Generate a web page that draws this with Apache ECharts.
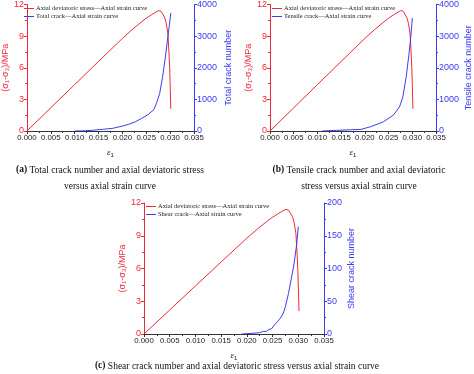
<!DOCTYPE html>
<html>
<head>
<meta charset="utf-8">
<script src="https://cdn.jsdelivr.net/npm/echarts@6/dist/echarts.min.js"></script>
<style>
html,body{margin:0;padding:0;background:#fff;}
#chart{width:474px;height:374px;}
</style>
</head>
<body>
<div id="chart"></div>
<script>
// ---- data ----
const stressStrain = [0, 0.005, 0.010, 0.015, 0.020, 0.022, 0.024, 0.025, 0.026, 0.027, 0.0276, 0.0281, 0.0285, 0.0289, 0.0292, 0.02954, 0.02975, 0.0299, 0.0300, 0.03014];
const stressValues = [0, 2.2, 4.4, 6.6, 8.78, 9.6, 10.35, 10.7, 11.0, 11.28, 11.42, 11.35, 11.05, 10.7, 10.2, 9.2, 7.5, 6.0, 4.5, 2.1];

const totalStrain = [0.010, 0.012, 0.014, 0.016, 0.018, 0.020, 0.0215, 0.0227, 0.024, 0.0254, 0.0266, 0.0271, 0.0278, 0.0284, 0.0290, 0.0295, 0.0298, 0.03014];
const totalCracks = [0, 5, 25, 55, 85, 156, 220, 291, 396, 521, 677, 865, 1177, 1697, 2322, 2947, 3300, 3728];

const tensileStrain = [0.011, 0.014, 0.017, 0.0192, 0.0212, 0.0239, 0.026, 0.0273, 0.028, 0.0287, 0.0293, 0.0297, 0.0300];
const tensileCracks = [0, 20, 40, 52, 135, 291, 500, 760, 1072, 1697, 2428, 3000, 3572];

const shearStrain = [0.019, 0.021, 0.0225, 0.0232, 0.0238, 0.0243, 0.0248, 0.0251, 0.0255, 0.0258, 0.0261, 0.0265, 0.0268, 0.0271, 0.0275, 0.0281, 0.0287, 0.0292, 0.0297, 0.0300];
const shearCracks = [0, 1, 2, 4, 4, 7, 8, 11, 15, 14, 20, 24, 27, 32, 42, 62, 87, 108, 138, 164];

const strainTicks = [0, 0.005, 0.010, 0.015, 0.020, 0.025, 0.030, 0.035];
const stressTicks = [0, 3, 6, 9, 12];
const crackMaxAB = 4000, crackStepAB = 1000;
const crackMaxC = 200, crackStepC = 50;

const stressName = 'Axial deviatoric stress\u2014Axial strain curve';
const crackNames = ['Total crack\u2014Axial strain curve', 'Tensile crack\u2014Axial strain curve', 'Shear crack\u2014Axial strain curve'];
const rightAxisNames = ['Total crack number', 'Tensile crack number', 'Shear crack number'];
const captions = [
  ['(a)', ' Total crack number and axial deviatoric stress', 'versus axial strain curve'],
  ['(b)', ' Tensile crack number and axial deviatoric', 'stress versus axial strain curve'],
  ['(c)', ' Shear crack number and axial deviatoric stress versus axial strain curve']
];

// ---- build ----
const RED = '#f0283c', BLUE = '#3c3cf0';
const zip = (xs, ys) => xs.map((x, i) => [x, ys[i]]);

const grids = [
  {left: 21, top: 3, width: 173, height: 128},
  {left: 270, top: 3, width: 173, height: 128},
  {left: 144, top: 203, width: 180, height: 131}
];
const rightMax = [crackMaxAB, crackMaxAB, crackMaxC];
const rightStep = [crackStepAB, crackStepAB, crackStepC];
const leftNameGap = [16, 17, 12];
const rightNameGap = [30, 28, 23];
const crackData = [zip(totalStrain, totalCracks), zip(tensileStrain, tensileCracks), zip(shearStrain, shearCracks)];
const legendPos = [{left: 24, top: 5}, {left: 272, top: 5}, {left: 146, top: 203}];

const xAxes = [], yAxes = [], series = [], legends = [];
grids.forEach((g, i) => {
  xAxes.push({
    type: 'value', gridIndex: i, min: 0, max: strainTicks[strainTicks.length - 1], interval: 0.005,
    name: '{e|ε}{s|1}', nameLocation: 'middle', nameGap: 16,
    nameTextStyle: {color: '#222', fontSize: 9, fontFamily: 'Liberation Serif',
      rich: {e: {fontSize: 9, fontFamily: 'Liberation Serif', fontStyle: 'italic', color: '#222'},
             s: {fontSize: 6, fontFamily: 'Liberation Sans', color: '#222', padding: [5, 0, 0, 0]}}},
    axisLine: {lineStyle: {color: '#333', width: 1}},
    axisTick: {show: true, length: 3, lineStyle: {color: '#333'}},
    minorTick: {show: true, splitNumber: 2, length: 2, lineStyle: {color: '#333'}},
    axisLabel: {color: '#222', fontSize: 7.8, fontFamily: 'Liberation Sans', margin: 3, formatter: v => v.toFixed(3)},
    splitLine: {show: false}
  });
  yAxes.push({
    type: 'value', gridIndex: i, min: 0, max: stressTicks[stressTicks.length - 1], interval: 3, position: 'left',
    name: '(σ\u2081-σ\u2083)/MPa', nameLocation: 'middle', nameGap: leftNameGap[i], nameRotate: 90,
    nameTextStyle: {color: RED, fontSize: 9, fontFamily: 'Liberation Sans'},
    axisLine: {show: true, lineStyle: {color: RED, width: 1}},
    axisTick: {show: true, length: 3, lineStyle: {color: RED}},
    minorTick: {show: true, splitNumber: 2, length: 2, lineStyle: {color: RED}},
    axisLabel: {color: RED, fontSize: 9, fontFamily: 'Liberation Sans', margin: 3},
    splitLine: {show: false}
  });
  yAxes.push({
    type: 'value', gridIndex: i, min: 0, max: rightMax[i], interval: rightStep[i], position: 'right',
    name: rightAxisNames[i], nameLocation: 'middle', nameGap: rightNameGap[i], nameRotate: 90,
    nameTextStyle: {color: BLUE, fontSize: 9, fontFamily: 'Liberation Sans'},
    axisLine: {show: true, lineStyle: {color: BLUE, width: 1}},
    axisTick: {show: true, length: 3, lineStyle: {color: BLUE}},
    minorTick: {show: true, splitNumber: 2, length: 2, lineStyle: {color: BLUE}},
    axisLabel: {color: BLUE, fontSize: 9, fontFamily: 'Liberation Sans', margin: 3, formatter: v => String(v)},
    splitLine: {show: false}
  });
  series.push({
    type: 'line', name: stressName, xAxisIndex: i, yAxisIndex: 2 * i,
    data: zip(stressStrain, stressValues), showSymbol: false, smooth: false,
    lineStyle: {color: RED, width: 1}, itemStyle: {color: RED}
  });
  series.push({
    type: 'line', name: crackNames[i], xAxisIndex: i, yAxisIndex: 2 * i + 1,
    data: crackData[i], showSymbol: false,
    lineStyle: {color: BLUE, width: 1}, itemStyle: {color: BLUE}
  });
  legends.push({
    data: [stressName, crackNames[i]], orient: 'vertical', left: legendPos[i].left, top: legendPos[i].top,
    icon: 'rect', itemWidth: 10, itemHeight: 1, itemGap: 1, padding: 0,
    textStyle: {fontSize: 6.5, fontFamily: 'Liberation Serif', color: '#222', padding: [0, 0, 0, -3]},
    selectedMode: false
  });
});

const capStyle = {fontFamily: 'Liberation Serif', fontSize: 9.5, fill: '#111'};
const graphic = [
  {type: 'text', x: 110, y: 170, style: Object.assign({text: '{b|' + captions[0][0] + '}' + captions[0][1], align: 'center', verticalAlign: 'middle', rich: {b: {fontWeight: 'bold', fontFamily: 'Liberation Serif', fontSize: 9.5}}}, capStyle)},
  {type: 'text', x: 110, y: 186, style: Object.assign({text: captions[0][2], align: 'center', verticalAlign: 'middle'}, capStyle)},
  {type: 'text', x: 359, y: 170, style: Object.assign({text: '{b|' + captions[1][0] + '}' + captions[1][1], align: 'center', verticalAlign: 'middle', rich: {b: {fontWeight: 'bold', fontFamily: 'Liberation Serif', fontSize: 9.5}}}, capStyle)},
  {type: 'text', x: 359, y: 186, style: Object.assign({text: captions[1][2], align: 'center', verticalAlign: 'middle'}, capStyle)},
  {type: 'text', x: 237, y: 366, style: Object.assign({text: '{b|' + captions[2][0] + '}' + captions[2][1], align: 'center', verticalAlign: 'middle', rich: {b: {fontWeight: 'bold', fontFamily: 'Liberation Serif', fontSize: 9.5}}}, capStyle)}
];

const chart = echarts.init(document.getElementById('chart'), null, {renderer: 'canvas'});
chart.setOption({
  animation: false,
  backgroundColor: '#fff',
  grid: grids,
  xAxis: xAxes,
  yAxis: yAxes,
  legend: legends,
  series: series,
  graphic: graphic
});
</script>
</body>
</html>
